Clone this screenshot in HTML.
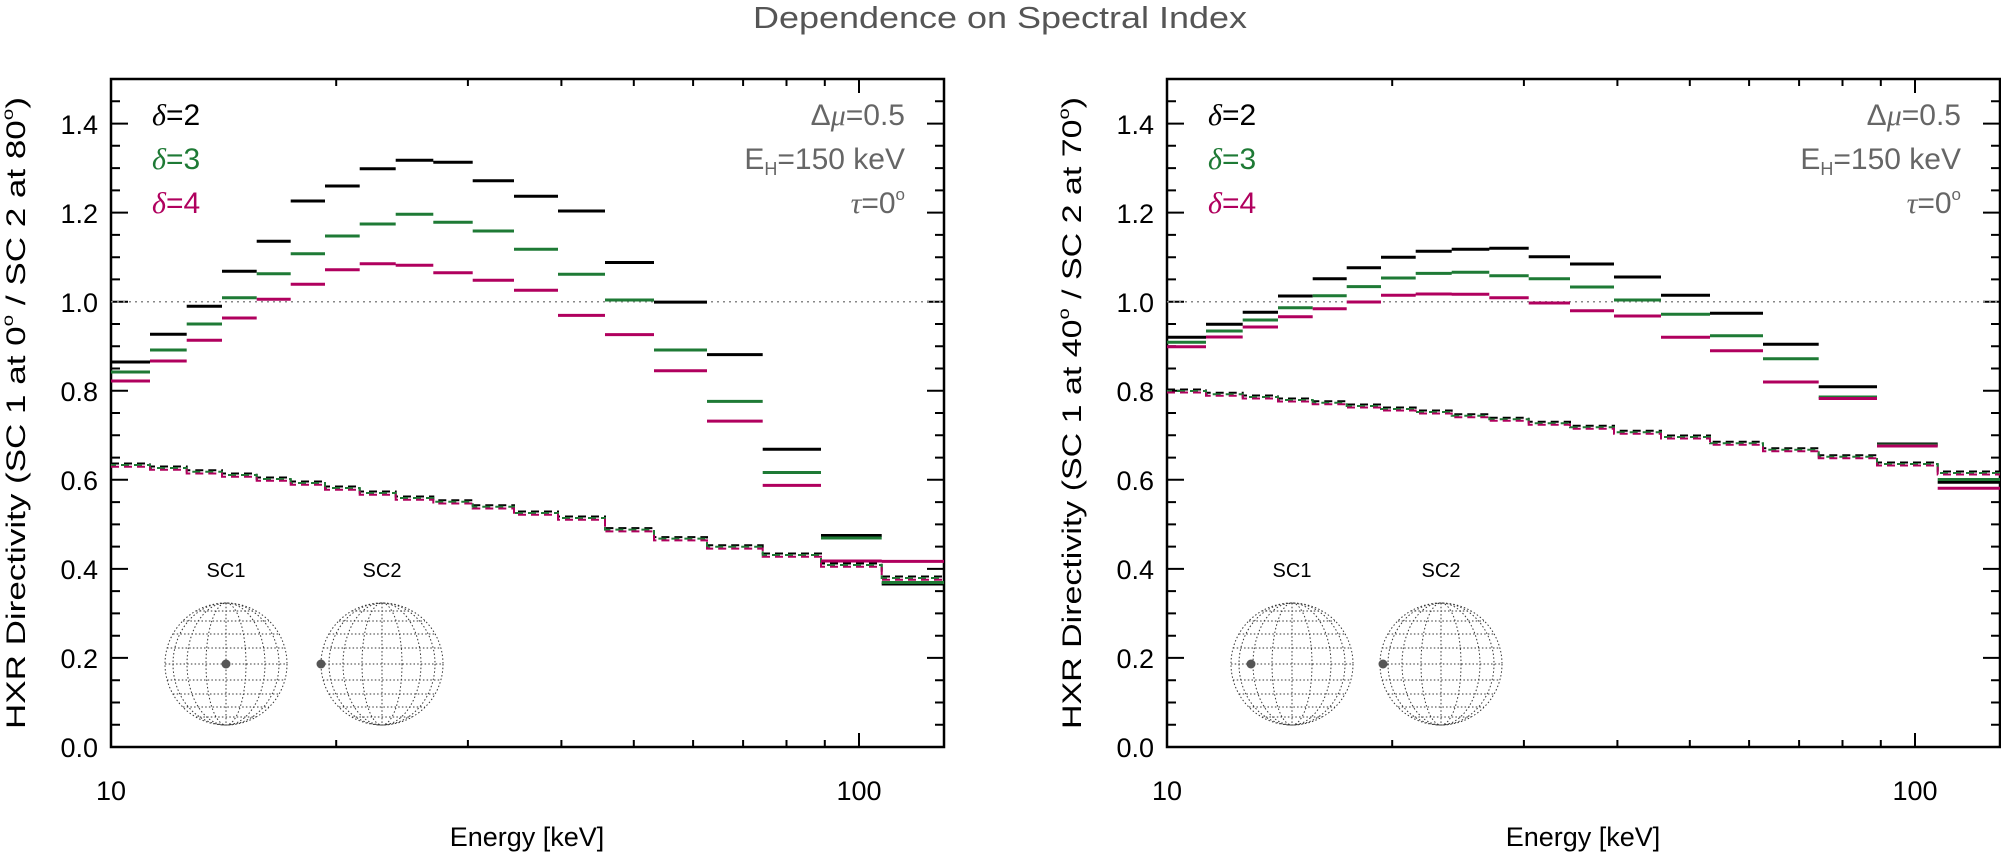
<!DOCTYPE html>
<html><head><meta charset="utf-8"><style>
html,body{margin:0;padding:0;background:#fff;}
svg{display:block;font-family:"Liberation Sans",sans-serif;}
</style></head><body>
<svg width="2001" height="852" viewBox="0 0 2001 852" xmlns="http://www.w3.org/2000/svg">
<defs>
<g id="sph" fill="none" stroke="#333" stroke-width="1" stroke-dasharray="1.5 2.2">
<circle cx="0" cy="0" r="61"/>
<ellipse cx="0" cy="0" rx="20" ry="61"/>
<ellipse cx="0" cy="0" rx="39" ry="61"/>
<ellipse cx="0" cy="0" rx="53" ry="61"/>
<path d="M0 -61V61"/>
<path d="M-59 -16H59M-53 -30H53M-43 -43H43M-30 -53H30M-59 16H59M-53 30H53M-43 43H43M-30 53H30M-61 0H61"/>
</g>
<g id="frame">
<rect x="111" y="79" width="833" height="668" fill="none" stroke="#000" stroke-width="2.5"/>
<path stroke="#000" stroke-width="2" fill="none" d="
M111 724.7h9M111 702.5h9M111 680.2h9M111 635.7h9M111 613.4h9M111 591.1h9M111 546.6h9M111 524.4h9M111 502.1h9M111 457.6h9M111 435.3h9M111 413h9M111 368.5h9M111 346.2h9M111 324h9M111 279.4h9M111 257.2h9M111 234.9h9M111 190.4h9M111 168.1h9M111 145.8h9M111 101.3h9
M111 657.9h17M111 568.9h17M111 479.8h17M111 390.8h17M111 301.7h17M111 212.6h17M111 123.6h17
M944 724.7h-9M944 702.5h-9M944 680.2h-9M944 635.7h-9M944 613.4h-9M944 591.1h-9M944 546.6h-9M944 524.4h-9M944 502.1h-9M944 457.6h-9M944 435.3h-9M944 413h-9M944 368.5h-9M944 346.2h-9M944 324h-9M944 279.4h-9M944 257.2h-9M944 234.9h-9M944 190.4h-9M944 168.1h-9M944 145.8h-9M944 101.3h-9
M944 657.9h-17M944 568.9h-17M944 479.8h-17M944 390.8h-17M944 301.7h-17M944 212.6h-17M944 123.6h-17
M336.2 747v-7M467.9 747v-7M561.4 747v-7M633.8 747v-7M693.1 747v-7M743.1 747v-7M786.5 747v-7M824.8 747v-7M859 747v-14
M336.2 79v7M467.9 79v7M561.4 79v7M633.8 79v7M693.1 79v7M743.1 79v7M786.5 79v7M824.8 79v7M859 79v14"/>
<path d="M111 301.7H944" stroke="#888" stroke-width="1.5" stroke-dasharray="2 4" fill="none"/>
<g font-size="27" text-anchor="end" fill="#000">
<text x="98" y="757">0.0</text><text x="98" y="668">0.2</text><text x="98" y="579">0.4</text><text x="98" y="490">0.6</text><text x="98" y="401">0.8</text><text x="98" y="312">1.0</text><text x="98" y="223">1.2</text><text x="98" y="134">1.4</text>
</g>
<g font-size="27" text-anchor="middle" fill="#000">
<text x="111" y="800">10</text><text x="859" y="800">100</text>
<text x="527" y="846">Energy [keV]</text>
</g>
<g font-size="30" fill="#000">
<text x="152" y="125"><tspan font-family="Liberation Serif" font-style="italic">δ</tspan>=2</text>
<text x="152" y="169" fill="#1e7a35"><tspan font-family="Liberation Serif" font-style="italic">δ</tspan>=3</text>
<text x="152" y="213" fill="#b0005e"><tspan font-family="Liberation Serif" font-style="italic">δ</tspan>=4</text>
</g>
<g font-size="30" fill="#666" text-anchor="end">
<text x="905" y="125">Δ<tspan font-family="Liberation Serif" font-style="italic">μ</tspan>=0.5</text>
<text x="905" y="169">E<tspan font-size="18" dy="6">H</tspan><tspan dy="-6">=150 keV</tspan></text>
<text x="905" y="213"><tspan font-family="Liberation Serif" font-style="italic">τ</tspan>=0<tspan font-size="17" dy="-13">o</tspan></text>
</g>
</g>
</defs>

<text x="1000" y="28" font-size="31" fill="#555" text-anchor="middle" textLength="494" lengthAdjust="spacingAndGlyphs">Dependence on Spectral Index</text>

<use href="#frame"/>
<use href="#frame" transform="translate(1056,0)"/>

<text transform="translate(25,413) rotate(-90)" font-size="27" text-anchor="middle" textLength="632" lengthAdjust="spacingAndGlyphs">HXR Directivity (SC 1 at 0<tspan font-size="16" dy="-12">o</tspan><tspan dy="12"> / SC 2 at 80</tspan><tspan font-size="16" dy="-12">o</tspan><tspan dy="12">)</tspan></text>
<text transform="translate(1081,413) rotate(-90)" font-size="27" text-anchor="middle" textLength="632" lengthAdjust="spacingAndGlyphs">HXR Directivity (SC 1 at 40<tspan font-size="16" dy="-12">o</tspan><tspan dy="12"> / SC 2 at 70</tspan><tspan font-size="16" dy="-12">o</tspan><tspan dy="12">)</tspan></text>

<g fill="none">
<path stroke="#000" stroke-width="2" stroke-dasharray="8 5" transform="translate(0,-1.5)" d="M111 465H150V468H186.7V471.7H222V475H256.7V479H290.7V483H325V488H359.7V493H395.7V498H433.3V501.7H472.7V506.7H514V513H558V518H605V529.6H654V538.6H707V546.8H762.7V555H821V565H881.7V578H944"/>
<path stroke="#1e7a35" stroke-width="2" stroke-dasharray="8 5" stroke-dashoffset="3" d="M111 465H150V468H186.7V471.7H222V475H256.7V479H290.7V483H325V488H359.7V493H395.7V498H433.3V501.7H472.7V506.7H514V513H558V518H605V529.6H654V538.6H707V546.8H762.7V555H821V565H881.7V578H944"/>
<path stroke="#b0005e" stroke-width="2" stroke-dasharray="8 5" transform="translate(0,1.8)" d="M111 465H150V468H186.7V471.7H222V475H256.7V479H290.7V483H325V488H359.7V493H395.7V498H433.3V501.7H472.7V506.7H514V513H558V518H605V529.6H654V538.6H707V546.8H762.7V555H821V565H881.7V578H944"/>
<path stroke="#000" stroke-width="3" d="M111 362H150M150 334.3H186.7M186.7 306.3H222M222 271.3H256.7M256.7 241.3H290.7M290.7 201H325M325 186H359.7M359.7 168.7H395.7M395.7 160.3H433.3M433.3 162.3H472.7M472.7 180.7H514M514 196.3H558M558 211H605M605 262.5H654M654 302.1H707M707 354.6H762.7M762.7 449.3H821M821 535.5H881.7M881.7 584H944"/>
<path stroke="#1e7a35" stroke-width="3" d="M111 372H150M150 350H186.7M186.7 324H222M222 297.7H256.7M256.7 273.7H290.7M290.7 253.7H325M325 236H359.7M359.7 224H395.7M395.7 214.3H433.3M433.3 222.3H472.7M472.7 231H514M514 249.3H558M558 274.3H605M605 300H654M654 350H707M707 401.4H762.7M762.7 472.5H821M821 538H881.7M881.7 582.5H944"/>
<path stroke="#b0005e" stroke-width="3" d="M111 381H150M150 361H186.7M186.7 340.3H222M222 318H256.7M256.7 299.3H290.7M290.7 284.3H325M325 269.7H359.7M359.7 263.7H395.7M395.7 265.3H433.3M433.3 272.7H472.7M472.7 280.3H514M514 290.3H558M558 315.4H605M605 334.6H654M654 370.7H707M707 421.1H762.7M762.7 485.4H821M821 561H881.7M881.7 561.4H944"/>
</g>

<g fill="none" transform="translate(1056,0)">
<path stroke="#000" stroke-width="2" stroke-dasharray="8 5" transform="translate(0,-1.5)" d="M111 391H150V394.3H186.7V397H222V400H256.7V402.7H290.7V406H325V409H359.7V412H395.7V415.7H433.3V419.3H472.7V423.3H514V427.3H558V432.3H605V437H654V443.3H707V449.7H762.7V456.7H821V464H881.7V473H944"/>
<path stroke="#1e7a35" stroke-width="2" stroke-dasharray="8 5" stroke-dashoffset="3" d="M111 391H150V394.3H186.7V397H222V400H256.7V402.7H290.7V406H325V409H359.7V412H395.7V415.7H433.3V419.3H472.7V423.3H514V427.3H558V432.3H605V437H654V443.3H707V449.7H762.7V456.7H821V464H881.7V473H944"/>
<path stroke="#b0005e" stroke-width="2" stroke-dasharray="8 5" transform="translate(0,1.5)" d="M111 391H150V394.3H186.7V397H222V400H256.7V402.7H290.7V406H325V409H359.7V412H395.7V415.7H433.3V419.3H472.7V423.3H514V427.3H558V432.3H605V437H654V443.3H707V449.7H762.7V456.7H821V464H881.7V473H944"/>
<path stroke="#000" stroke-width="3" d="M111 337.3H150M150 324.3H186.7M186.7 312.3H222M222 296H256.7M256.7 278.8H290.7M290.7 267.7H325M325 257.3H359.7M359.7 251.3H395.7M395.7 249.3H433.3M433.3 248.3H472.7M472.7 256.7H514M514 264H558M558 277H605M605 295.3H654M654 313.3H707M707 344.3H762.7M762.7 386.7H821M821 444H881.7M881.7 482.3H944"/>
<path stroke="#1e7a35" stroke-width="3" d="M111 342.3H150M150 331H186.7M186.7 320H222M222 307.7H256.7M256.7 295.7H290.7M290.7 286.6H325M325 278H359.7M359.7 273.4H395.7M395.7 272.3H433.3M433.3 275.8H472.7M472.7 278.8H514M514 287H558M558 300H605M605 314.3H654M654 335.7H707M707 358.7H762.7M762.7 397H821M821 445H881.7M881.7 479.5H944"/>
<path stroke="#b0005e" stroke-width="3" d="M111 346.7H150M150 337H186.7M186.7 327H222M222 316.7H256.7M256.7 308.7H290.7M290.7 302H325M325 295.3H359.7M359.7 294H395.7M395.7 294.3H433.3M433.3 297.7H472.7M472.7 303H514M514 310.7H558M558 316H605M605 337.3H654M654 350.7H707M707 382H762.7M762.7 398.5H821M821 446H881.7M881.7 488.3H944"/>
</g>

<use href="#sph" transform="translate(226,664)"/>
<use href="#sph" transform="translate(382,664)"/>
<use href="#sph" transform="translate(1292,664)"/>
<use href="#sph" transform="translate(1441,664)"/>
<g fill="#555">
<circle cx="226" cy="664" r="4.5"/>
<circle cx="321" cy="664" r="4.5"/>
<circle cx="1251" cy="664" r="4.5"/>
<circle cx="1383" cy="664" r="4.5"/>
</g>
<g font-size="20" text-anchor="middle" fill="#000">
<text x="226" y="577">SC1</text><text x="382" y="577">SC2</text>
<text x="1292" y="577">SC1</text><text x="1441" y="577">SC2</text>
</g>
</svg>
</body></html>
